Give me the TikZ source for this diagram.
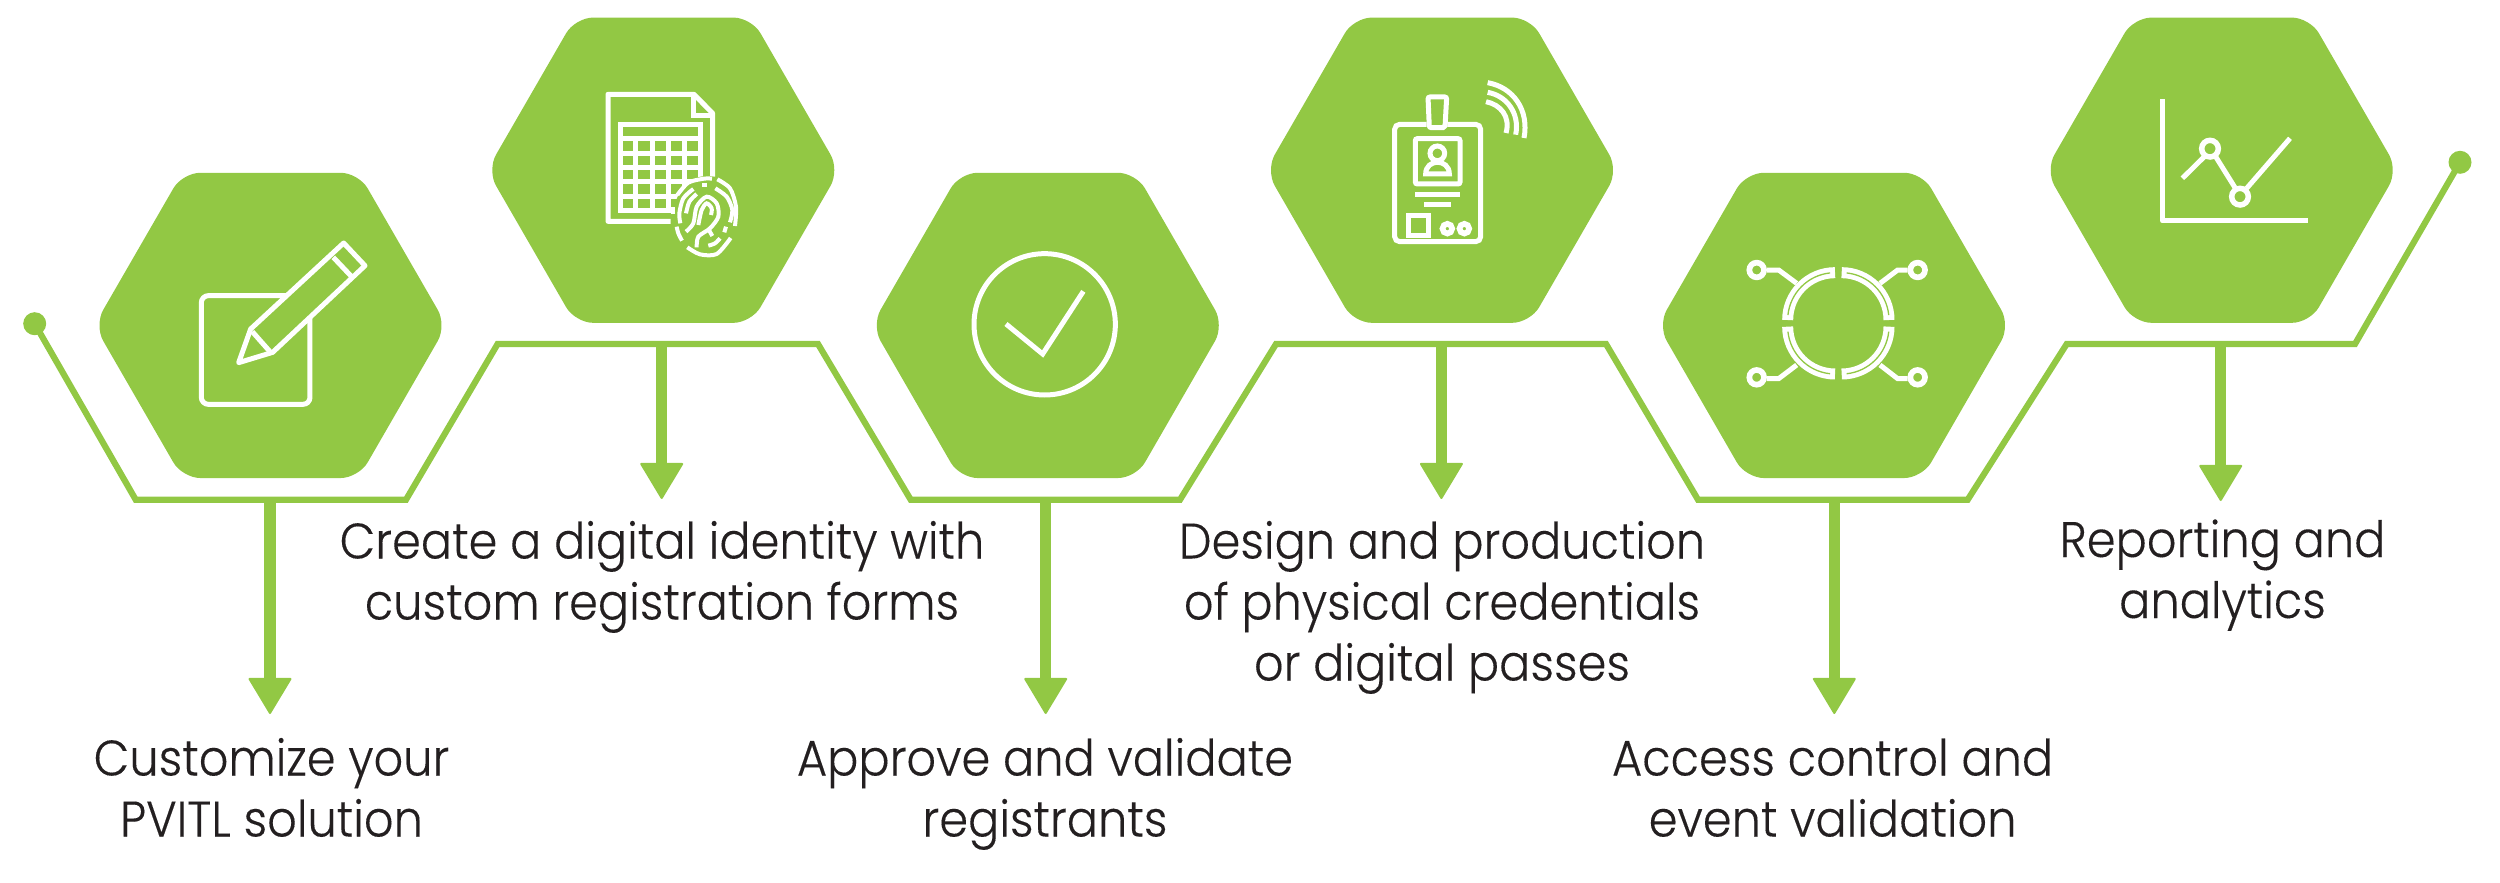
\documentclass[tikz,border=0pt]{standalone}
\usepackage{fontspec}
\setmainfont{Poppins}[UprightFont=* Light,FakeStretch=0.926,FakeBold=0.2]
\usetikzlibrary{shapes.geometric,arrows.meta}
\definecolor{pvgreen}{RGB}{146,200,68}
\definecolor{pvtext}{RGB}{35,31,32}
\tikzset{
  hexa/.style={regular polygon,regular polygon sides=6,fill=pvgreen,draw=none,inner sep=0pt,outer sep=0pt,minimum size=352.5pt,rounded corners=18pt},
  enddot/.style={circle,fill=pvgreen,draw=none,inner sep=0pt,outer sep=0pt,minimum size=23pt},
  rail/.style={draw=pvgreen,line width=6.2pt,miter limit=10},
  stem/.style={draw=pvgreen,line width=11.5pt,-{Triangle[width=44pt,length=37pt,round,line width=2pt,fill=pvgreen]}},
  caption/.style={text=pvtext,font=\fontsize{50}{61}\selectfont,align=center,anchor=base,inner sep=0pt},
  ico/.style={x=0.33333pt,y=-0.33333pt,draw=white,line width=5pt},
}
\begin{document}
\begin{tikzpicture}[x=1pt,y=-1pt]
\useasboundingbox (0,0) rectangle (2500,883);
% rail
\node[enddot] (dotL) at (34.7,323.7) {};
\node[enddot] (dotR) at (2460,162.3) {};
\coordinate (r1) at (135.7,499.7);
\coordinate (r2) at (406,499.7);
\coordinate (r3) at (497.6,344);
\coordinate (r4) at (818,344);
\coordinate (r5) at (910.7,499.7);
\coordinate (r6) at (1180,499.7);
\coordinate (r7) at (1276,344);
\coordinate (r8) at (1606,344);
\coordinate (r9) at (1698,499.7);
\coordinate (r10) at (1967.7,499.7);
\coordinate (r11) at (2066.7,344);
\coordinate (r12) at (2355,344);
\draw[rail] (dotL.center) -- (r1) -- (r2) -- (r3) -- (r4) -- (r5) -- (r6) -- (r7) -- (r8) -- (r9) -- (r10) -- (r11) -- (r12) -- (dotR.center);
% hexagons
\node[hexa] (h1) at (270.5,325.4) {};
\node[hexa] (h2) at (663.3,170.2) {};
\node[hexa] (h3) at (1047.8,325.4) {};
\node[hexa] (h4) at (1442,170.2) {};
\node[hexa] (h5) at (1834,325.4) {};
\node[hexa] (h6) at (2221.7,170.2) {};
% stems
\coordinate (s1) at (270,499.7);   \coordinate (e1) at (270,714);
\coordinate (s2) at (661.7,344);   \coordinate (e2) at (661.7,499);
\coordinate (s3) at (1045.7,499.7);\coordinate (e3) at (1045.7,714);
\coordinate (s4) at (1441.4,344);  \coordinate (e4) at (1441.4,499);
\coordinate (s5) at (1834.3,499.7);\coordinate (e5) at (1834.3,714);
\coordinate (s6) at (2220.7,344);  \coordinate (e6) at (2220.7,501);
\foreach \i in {1,...,6} \draw[stem] (s\i) -- (e\i);
% captions (anchor = baseline of last line)
\node[caption] (t1) at (271.5,836.5) {Customize your\\PVITL solution};
\node[caption] (t2) at (662,619.5) {Create a digital identity with\\custom registration forms};
\node[caption] (t3) at (1045,836.5) {Approve and validate\\registrants};
\node[caption] (t4) at (1442,680.5) {Design and production\\of physical credentials\\or digital passes};
\node[caption] (t5) at (1832.6,836.5) {Access control and\\event validation};
\node[caption] (t6) at (2222.5,618) {Reporting and\\analytics};
% icon 1
\begin{scope}[shift={(0,150)},ico]
\draw[rounded corners=7pt] (862,437) -- (604,437) -- (604,763) -- (930,763) -- (930,500);
\draw[line join=round] (716,638) -- (752,537) -- (1031,279) -- (1095,347) -- (818,607) -- cycle;
\draw (757,545) -- (810,605);
\draw (1000,322) -- (1053,378);
\end{scope}
% icon 2
\begin{scope}[shift={(480,0)},ico]
\draw[line join=round] (572,664) -- (384,664) -- (384,283) -- (642,283) -- (698,340) -- (698,530);
\draw (639,288) -- (639,346) -- (698,346);
\draw (661,530) -- (661,374) -- (420,374) -- (420,632) -- (572,632);
\foreach \y in {417,460,503,546,589} \draw (420,\y) -- (661,\y);
\foreach \x in {467,516,564,612} \draw (\x,417) -- (\x,632);
\fill[pvgreen] (680,650) ellipse [x radius=100,y radius=122];
\begin{scope}[line width=4pt]
\draw plot[smooth] coordinates {(592,585) (625,548) (672,536) (696,536)};
\draw plot[smooth] coordinates {(712,538) (750,565) (768,620) (765,678)};
\draw plot[smooth] coordinates {(706,565) (740,590) (757,630) (750,667)};
\draw plot[smooth] coordinates {(640,567) (610,595) (598,640) (601,670)};
\draw plot[smooth] coordinates {(590,680) (595,700) (606,722)};
\draw plot[smooth] coordinates {(622,742) (660,763) (710,762) (752,714)};
\draw plot[smooth] coordinates {(650,582) (628,605) (618,640)};
\draw plot[smooth] coordinates {(618,695) (640,670) (650,620) (680,590) (710,610) (715,650) (690,685) (655,710) (650,742)};
\draw plot[smooth] coordinates {(655,675) (665,630) (680,610) (695,625) (693,645)};
\draw plot[smooth] coordinates {(685,737) (705,730) (720,715)};
\draw[line width=5pt] (672,548) -- (672,562);
\draw (738,680) -- (733,697);
\draw (688,692) -- (697,708);
\draw (580,622) -- (580,642);
\end{scope}
\end{scope}
% icon 3
\begin{scope}[shift={(870,170)},ico]
\draw (524,463) circle [radius=212];
\draw (408,462) -- (518,552) -- (640,364);
\end{scope}
% icon 4
\begin{scope}[shift={(1260,0)},ico]
\draw[rounded corners=5pt] (500,373) -- (404,373) -- (404,725) -- (662,725) -- (662,373) -- (562,373);
\draw[rounded corners=2pt] (504,291) -- (560,291) -- (555,383) -- (508,383) -- cycle;
\draw[rounded corners=2pt] (466,416) rectangle (600,552);
\draw (532,460) circle [radius=22];
\draw (497,522) .. controls (497,475) and (568,475) .. (568,522) -- cycle;
\draw (465,583) -- (600,583);
\draw (492,614) -- (573,614);
\draw (445,646) rectangle (505,706);
\draw[line width=5.7pt] (562,686) circle [radius=14.5];
\draw[line width=5.7pt] (613,686) circle [radius=14.5];
\draw (683,248) .. controls (760,262) and (808,330) .. (792,414);
\draw (683,277) .. controls (740,287) and (780,340) .. (767,404);
\draw (678,305) .. controls (722,314) and (752,350) .. (738,399);
\end{scope}
% icon 5
\begin{scope}[shift={(1650,160)},ico]
\foreach \cx/\cy/\a in {555/480/180,575/480/270,575/500/0,555/500/90}{
  \draw[line width=11pt] (\cx,\cy) ++(\a:142) arc [start angle=\a,delta angle=90,radius=142];
  \draw[draw=pvgreen,line width=1.3pt] (\cx,\cy) ++(\a+6:142) arc [start angle=\a+6,delta angle=78,radius=142];
}
\draw[line width=5.7pt] (320,330) circle [radius=22];
\draw[line width=5.7pt] (803,330) circle [radius=22];
\draw[line width=5.7pt] (320,652) circle [radius=22];
\draw[line width=5.7pt] (803,652) circle [radius=22];
\draw (350,330) -- (386,330) -- (440,370);
\draw (773,330) -- (743,330) -- (690,370);
\draw (350,656) -- (386,656) -- (440,615);
\draw (773,656) -- (743,656) -- (690,615);
\end{scope}
% icon 6
\begin{scope}[shift={(2040,0)},ico]
\draw[line join=round] (367,297) -- (367,663) -- (804,663);
\draw (427,535) -- (493,470);
\draw (527,470) -- (585,563);
\draw (620,565) -- (750,415);
\draw[line width=5.5pt] (510,446) circle [radius=25];
\draw[line width=5.5pt] (600,590) circle [radius=25];
\end{scope}
\end{tikzpicture}
\end{document}
